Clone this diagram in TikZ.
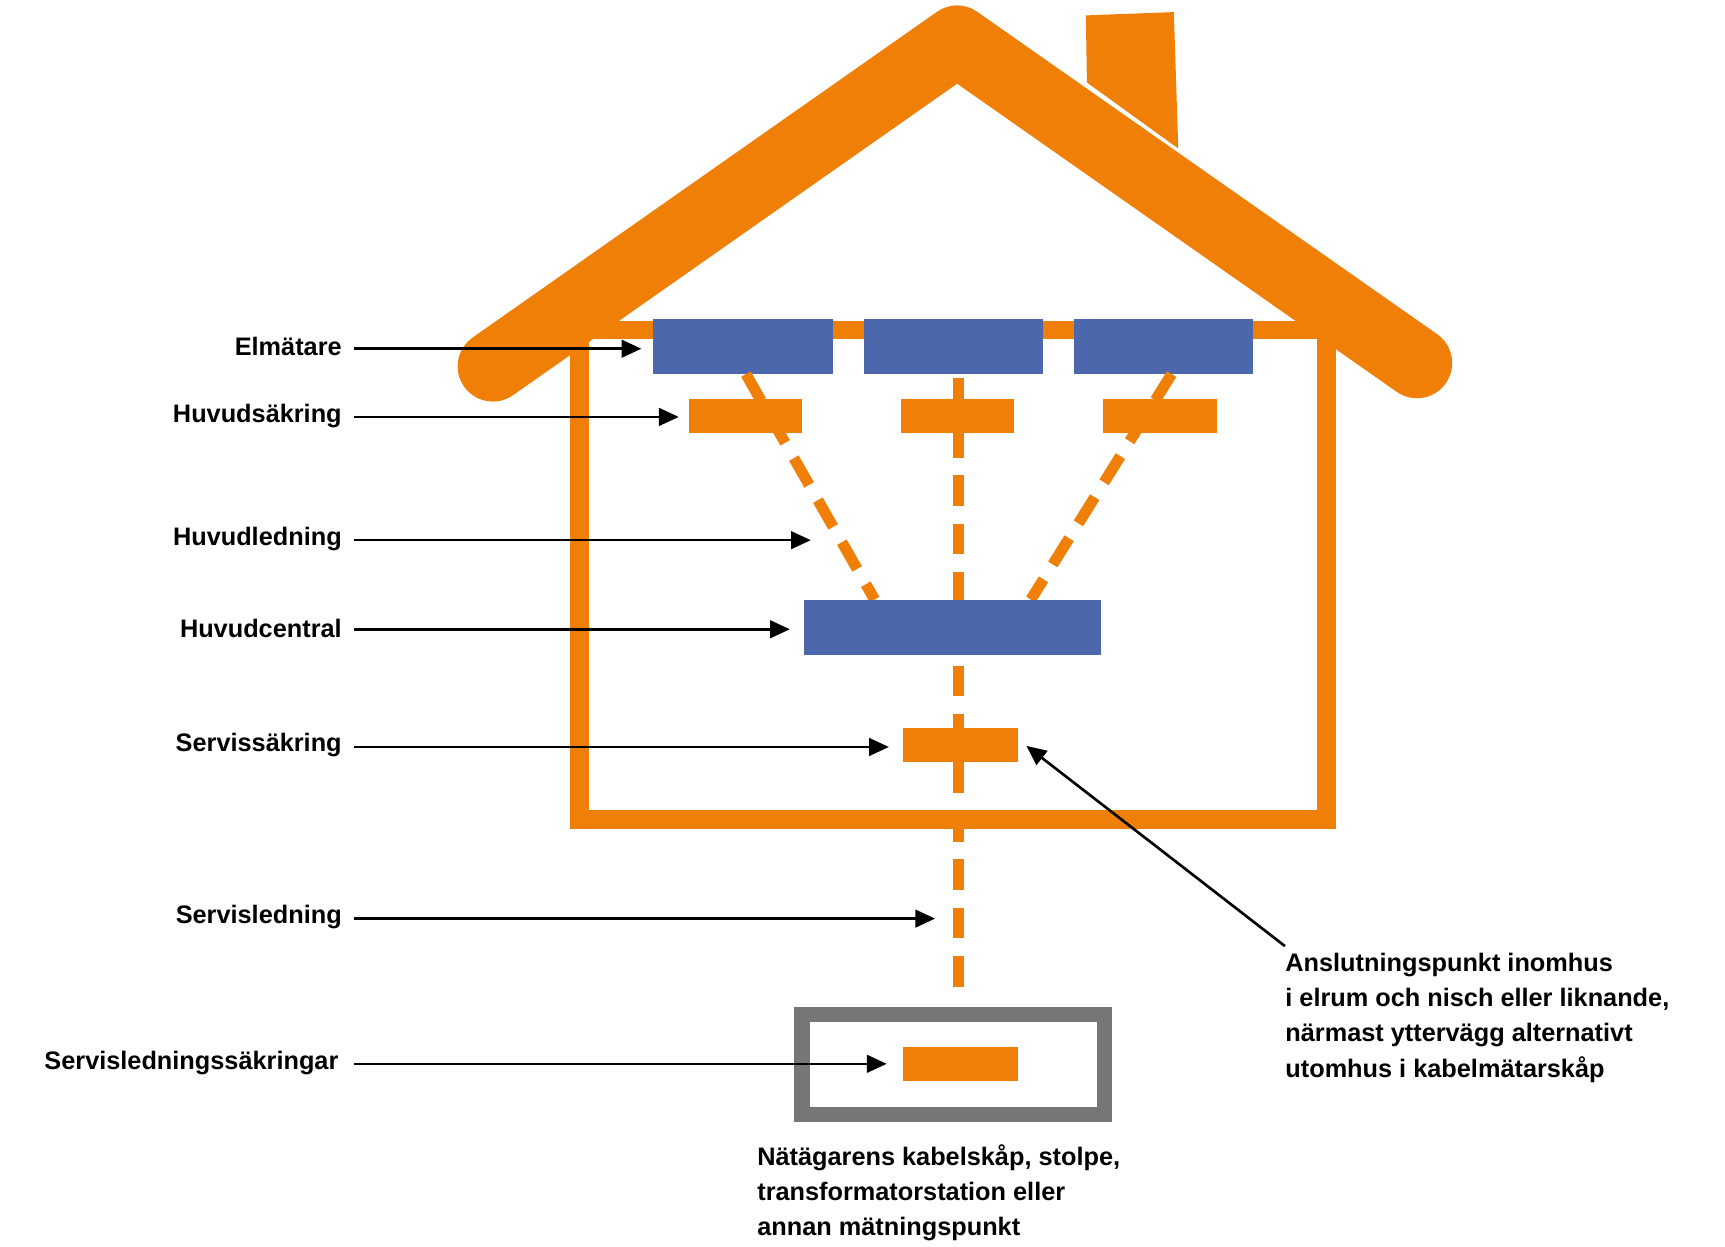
\documentclass[tikz,border=0pt]{standalone}
\usepackage{fontspec}
\setmainfont{Liberation Sans}
\usetikzlibrary{arrows.meta}
\definecolor{og}{HTML}{EF7F06}
\definecolor{bl}{HTML}{4C67AB}
\definecolor{gr}{HTML}{767676}
\begin{document}
\begin{tikzpicture}[x=0.5pt,y=-0.5pt,
 blue box/.style={fill=bl,draw=none},
 fuse/.style={fill=og,draw=none},
 wire/.style={og,line width=5pt,dash pattern=on 14pt off 8pt},
 lbl/.style={font=\bfseries\fontsize{11.5}{16}\selectfont,inner sep=0pt},
 arr/.style={-{Triangle[length=9pt,width=8pt]},line width=1.2pt}]
\useasboundingbox (0,0) rectangle (1568,1133);
% walls
\draw[og,line width=8.5pt] (527,300) rectangle (1206,745);
% roof
\draw[og,line width=32pt,line cap=round,line join=round] (448,333) -- (870,37) -- (1288,330);
\fill[og] (987,14) -- (1067,11) -- (1071,135) -- (988,75) -- cycle;
% meters
\fill[blue box] (594,290) rectangle (757,340);
\fill[blue box] (785,290) rectangle (948,340);
\fill[blue box] (976,290) rectangle (1139,340);
\coordinate (m1) at (678,340); \coordinate (m2) at (871,344); \coordinate (m3) at (1065,340);
% wires
\draw[wire] (m1) -- (795,545);
\draw[wire] (m2) -- (871,545);
\draw[wire] (m3) -- (937,545);
\draw[wire] (871,605) -- (871,910);
% fuses
\fill[fuse] (626,363) rectangle (729,394);
\fill[fuse] (819,363) rectangle (922,394);
\fill[fuse] (1003,363) rectangle (1106,394);
\fill[blue box] (731,545) rectangle (1001,595);
\fill[fuse] (821,662) rectangle (925,693);
% cabinet
\draw[gr,line width=7pt] (729,922) rectangle (1004,1013);
\fill[fuse] (821,952) rectangle (925,983);
% labels
\node[lbl,anchor=east] (l1) at (311,315) {Elmätare};
\node[lbl,anchor=east] (l2) at (311,378) {Huvudsäkring};
\node[lbl,anchor=east] (l3) at (311,490) {Huvudledning};
\node[lbl,anchor=east] (l4) at (311,571) {Huvudcentral};
\node[lbl,anchor=east] (l5) at (311,677) {Servissäkring};
\node[lbl,anchor=east] (l6) at (311,834) {Servisledning};
\node[lbl,anchor=east] (l7) at (308,966) {Servisledningssäkringar};
\coordinate (t1) at (583,317); \coordinate (t2) at (617,379);
\coordinate (t3) at (737,491); \coordinate (t4) at (718,572);
\coordinate (t5) at (808,679); \coordinate (t6) at (850,835);
\coordinate (t7) at (806,967);
\draw[arr] (322,317) -- (t1);
\draw[arr] (322,379) -- (t2);
\draw[arr] (322,491) -- (t3);
\draw[arr] (322,572) -- (t4);
\draw[arr] (322,679) -- (t5);
\draw[arr] (322,835) -- (t6);
\draw[arr] (322,967) -- (t7);
\node[lbl,anchor=north west,align=left] (r) at (1168,866) {Anslutningspunkt inomhus\\i elrum och nisch eller liknande,\\närmast yttervägg alternativt\\utomhus i kabelmätarskåp};
\coordinate (rs) at (1168,860); \coordinate (rt) at (933,678);
\draw[arr] (rs) -- (rt);
\node[lbl,anchor=north west,align=left] (b) at (688,1040) {Nätägarens kabelskåp, stolpe,\\transformatorstation eller\\annan mätningspunkt};
\end{tikzpicture}
\end{document}
